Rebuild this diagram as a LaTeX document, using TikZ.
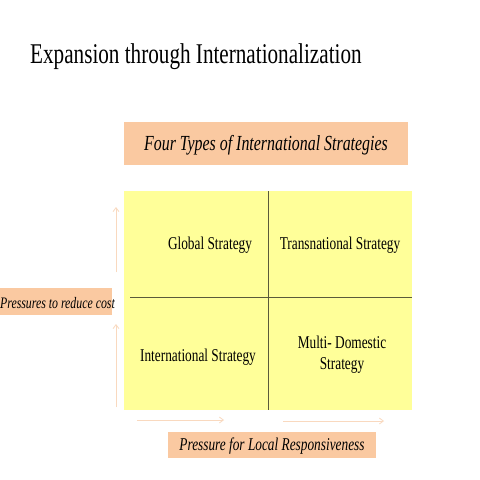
\documentclass[tikz,border=0pt]{standalone}
\usepackage{fontspec}
\setmainfont{Liberation Serif}
\newfontfamily\condserif[FakeStretch=0.74]{Liberation Serif}
\usetikzlibrary{arrows.meta}
\definecolor{peach}{HTML}{FAC9A1}
\definecolor{pale}{HTML}{FFFF99}
\definecolor{arrowc}{HTML}{F9D9BF}
\definecolor{gridline}{HTML}{5A5A3A}
\tikzset{
  lbl/.style={inner sep=0pt, font=\condserif\fontsize{18}{21}\selectfont, align=center},
  ital/.style={inner sep=0pt, font=\condserif\itshape\fontsize{18}{21}\selectfont},
  axisarrow/.style={draw=arrowc, line width=0.8pt, -{Straight Barb[length=4pt,width=6pt]}},
  divider/.style={draw=gridline, line width=0.9pt}
}
\begin{document}
\begin{tikzpicture}[x=1pt,y=-1pt]
\useasboundingbox (0,0) rectangle (480,480);
\fill[white] (0,0) rectangle (480,480);
% title
\node[anchor=west, inner sep=0pt, font=\condserif\fontsize{28.6}{32}\selectfont] (title) at (30,57) {Expansion through Internationalization};
% header box
\fill[peach] (124,122) rectangle (408,165);
\node[ital, font=\condserif\itshape\fontsize{21.5}{25}\selectfont] (head) at (266,145) {Four Types of International Strategies};
% matrix
\fill[pale] (124,191) rectangle (412,410);
\coordinate (vt) at (268,191);
\coordinate (vb) at (268,410);
\coordinate (hl) at (130,297);
\coordinate (hr) at (412,297);
\draw[divider] (vt) -- (vb);
\draw[divider] (hl) -- (hr);
\node[lbl] (global) at (210,245) {Global Strategy};
\node[lbl] (trans) at (340,245) {Transnational Strategy};
\node[lbl] (intl) at (198,357) {International Strategy};
\node[lbl] (multi) at (342,355) {Multi- Domestic\\Strategy};
% left label
\fill[peach] (0,288) rectangle (112,315);
\node[ital, font=\condserif\itshape\fontsize{16}{19}\selectfont] (cost) at (57.5,303) {Pressures to reduce cost};
% vertical arrows
\coordinate (a1s) at (116,272);
\coordinate (a1e) at (116,207);
\coordinate (a2s) at (116,407);
\coordinate (a2e) at (116,324);
\draw[axisarrow] (a1s) -- (a1e);
\draw[axisarrow] (a2s) -- (a2e);
% horizontal arrows
\coordinate (b1s) at (137,420);
\coordinate (b1e) at (224,420);
\coordinate (b2s) at (283,421);
\coordinate (b2e) at (384,421);
\draw[axisarrow] (b1s) -- (b1e);
\draw[axisarrow] (b2s) -- (b2e);
% bottom label
\fill[peach] (168,432) rectangle (376,458);
\node[ital] (local) at (272,446) {Pressure for Local Responsiveness};
\end{tikzpicture}
\end{document}
